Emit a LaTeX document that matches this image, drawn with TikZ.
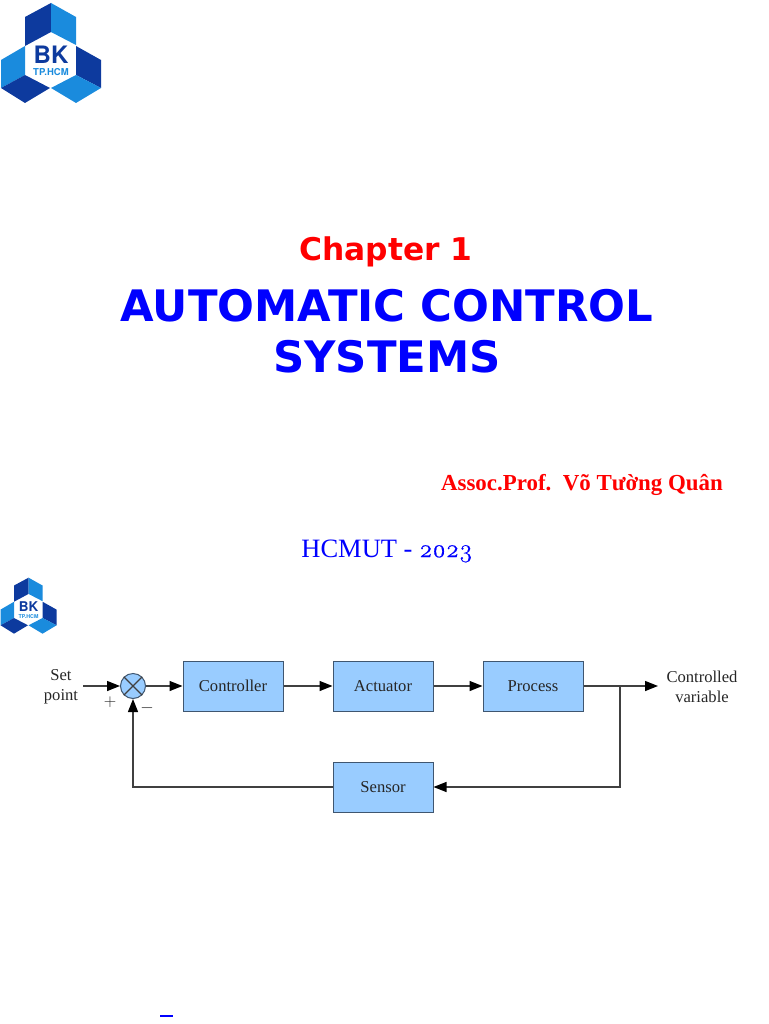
\documentclass[tikz,border=0pt]{standalone}
\usepackage{fontspec}
\setmainfont{Liberation Serif}
\newfontfamily\headfont{DejaVu Sans}
\newfontfamily\logofont{TeX Gyre Heros}
\newfontfamily\yearfont[Numbers=OldStyle,FakeBold=0.6]{Latin Modern Roman}
\usetikzlibrary{arrows.meta}
\definecolor{bkdark}{HTML}{0D3A9E}
\definecolor{bklight}{HTML}{1A8BDD}
\definecolor{blockfill}{HTML}{99CCFF}
\definecolor{blockline}{HTML}{3F5670}
\definecolor{wire}{HTML}{404040}
\definecolor{titleblue}{HTML}{0000FF}
\definecolor{titlered}{HTML}{FF0000}
\tikzset{
	blockbox/.style={draw=blockline,fill=blockfill,line width=1pt,minimum width=100pt,minimum height=50pt,inner sep=0pt,font=\fontsize{16.6}{16.6}\selectfont,text=black!85},
	sumnode/.style={circle,draw=blockline,fill=blockfill,line width=1pt,minimum size=25pt,inner sep=0pt},
	plainlabel/.style={align=center,font=\fontsize{16.6}{20}\selectfont,text=black!85,inner sep=0pt},
	wireline/.style={draw=wire,line width=1.4pt},
	flow/.style={wireline,-{Triangle[length=13pt,width=10pt,black]}}
}
\newcommand{\bklogo}[4]{%
	\begin{scope}[shift={(#1,#2)},scale=#3,transform shape]
		\foreach \col/\pts in {
			bkdark/{(25,17)--(51,3)--(51,32)--(25,46)},
			bklight/{(51,3)--(76,17)--(76,45)--(51,32)},
			bklight/{(1,60)--(25,46)--(25,75)--(1,88)},
			bkdark/{(1,88)--(25,75)--(50,88)--(25,103)},
			bkdark/{(76,46)--(101,60)--(101,88)--(76,75)},
			bklight/{(76,75)--(101,88)--(76,103)--(51,88)}
		} {
			\fill[\col] \pts -- cycle;
		}
		\node[inner sep=0pt,text=bkdark,font=\logofont\bfseries\fontsize{24}{24}\selectfont] (#4bk) at (51,55) {BK};
		\node[inner sep=0pt,text=bklight,font=\logofont\bfseries\fontsize{9.5}{9.5}\selectfont] (#4tp) at (51,72) {TP.HCM};
	\end{scope}
}
\begin{document}
\begin{tikzpicture}[x=1pt,y=-1pt,line join=miter]
	\useasboundingbox (0,0) rectangle (768,1024);
	\bklogo{0}{0}{1}{top}
	\bklogo{0}{576}{0.56}{low}
	% title slide
	\node[text=titlered,font=\headfont\bfseries\fontsize{31.3}{31.3}\selectfont] (chapter) at (386,252) {Chapter 1};
	\node[text=titleblue,font=\headfont\bfseries\fontsize{43.4}{43.4}\selectfont] (titleA) at (387,306) {AUTOMATIC CONTROL};
	\node[text=titleblue,font=\headfont\bfseries\fontsize{43.4}{43.4}\selectfont] (titleB) at (387,357) {SYSTEMS};
	\node[text=titlered,font=\bfseries\fontsize{22.9}{22.9}\selectfont] (author) at (582,485) {Assoc.Prof.~~Võ Tường Quân};
	\node[text=titleblue,font=\fontsize{26.5}{26.5}\selectfont] (year) at (387,551) {HCMUT - {\yearfont\fontsize{25.5}{25.5}\selectfont 2023}};
	% block diagram
	\node[plainlabel] (setpoint) at (61,687) {Set\\point};
	\node[sumnode] (sum) at (133,686) {};
	\node[blockbox] (controller) at (233,686) {Controller};
	\node[blockbox] (actuator) at (383,686) {Actuator};
	\node[blockbox] (process) at (533,686) {Process};
	\node[blockbox] (sensor) at (383,787) {Sensor};
	\node[plainlabel] (output) at (702,687) {Controlled\\variable};
	\node[plainlabel] (plus) at (110,702) {$+$};
	\node[plainlabel] (minus) at (147,708) {$-$};
	\coordinate (start) at (83,686);
	\coordinate (branch) at (620,686);
	\coordinate (stop) at (658,686);
	\draw[wireline] (sum.45) -- (sum.225) (sum.135) -- (sum.315);
	\draw[flow] (start) -- (sum);
	\draw[flow] (sum) -- (controller);
	\draw[flow] (controller) -- (actuator);
	\draw[flow] (actuator) -- (process);
	\draw[flow] (process) -- (stop);
	\draw[flow] (branch) |- (sensor);
	\draw[flow] (sensor) -| (sum);
	\coordinate (dashA) at (160,1016);
	\coordinate (dashB) at (173,1016);
	\draw[titleblue,line width=2pt] (dashA) -- (dashB);
\end{tikzpicture}
\end{document}
